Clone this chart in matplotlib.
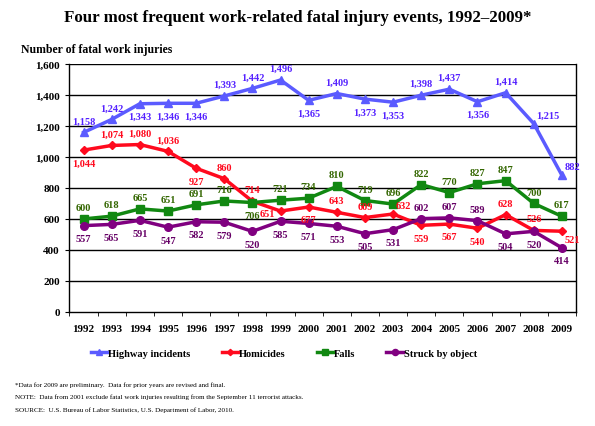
import numpy as np
import matplotlib.pyplot as plt
from matplotlib.ticker import FuncFormatter, FixedLocator

plt.rcParams['font.family'] = ['Liberation Serif', 'DejaVu Serif']

years = [str(y) for y in range(1992, 2010)]
highway = [1158, 1242, 1343, 1346, 1346, 1393, 1442, 1496, 1365, 1409,
           1373, 1353, 1398, 1437, 1356, 1414, 1215, 882]
homicides = [1044, 1074, 1080, 1036, 927, 860, 714, 651, 677, 643,
             609, 632, 559, 567, 540, 628, 526, 521]
falls = [600, 618, 665, 651, 691, 716, 706, 721, 734, 810,
         719, 696, 822, 770, 827, 847, 700, 617]
struck = [557, 565, 591, 547, 582, 579, 520, 585, 571, 553,
          505, 531, 602, 607, 589, 504, 520, 414]

# label placement: u above, d below, r right-above, q right-below, l left
hw_pos = list("uuddduuududduudurr")
ho_pos = list("duuuduulduurddduuq")
fa_pos = list("uuuuuuduuuuuuuuuuu")
st_pos = list("dddddddddddduuuddd")

fig = plt.figure(figsize=(5.95, 4.27), dpi=100)
ax = fig.add_axes([0.1168, 0.267, 0.8512, 0.581])

x = np.arange(len(years))
series = [
    (highway, '#5B5BFF', '#5522FF', '^', 'Highway incidents', hw_pos, 6),
    (homicides, '#FF0A1E', '#FF0A1E', 'D', 'Homicides', ho_pos, 4),
    (falls, '#118811', '#336600', 's', 'Falls', fa_pos, 5.5),
    (struck, '#800080', '#660066', 'o', 'Struck by object', st_pos, 5.5),
]
offsets = {
    'u': (0, 5, 'center', 'bottom'),
    'd': (0, -6, 'center', 'top'),
    'r': (2, 3, 'left', 'bottom'),
    'q': (2, -3, 'left', 'top'),
    'l': (-4, -2, 'right', 'center'),
}
for vals, col, tcol, mk, name, pos, ms in series:
    ax.plot(x, vals, color=col, lw=2.5, marker=mk, ms=ms, label=name,
            zorder=3)
    for xi, v, p in zip(x, vals, pos):
        dx, dy, ha, va = offsets[p]
        ax.annotate(f"{v:,}", (xi, v), xytext=(dx, dy),
                    textcoords='offset points', ha=ha, va=va,
                    color=tcol, fontsize=7.5, fontweight='bold', zorder=5)

ax.set_xlim(-0.5, len(years) - 0.5)
ax.set_ylim(0, 1600)
ax.yaxis.set_major_locator(FixedLocator(range(0, 1601, 200)))
ax.yaxis.set_major_formatter(FuncFormatter(lambda v, p: f"{int(v):,}"))
for g in range(200, 1601, 200):
    ax.axhline(g, color='black', lw=1, zorder=1)
ax.spines['top'].set_visible(False)
for s in ['left', 'right', 'bottom']:
    ax.spines[s].set_linewidth(1)

ax.set_xticks(x)
ax.set_xticklabels(years)
ax.set_xticks(np.arange(-0.5, len(years), 1), minor=True)
ax.tick_params(axis='x', which='major', length=0, pad=9)
ax.tick_params(axis='x', which='minor', length=3, direction='out')
ax.tick_params(axis='y', length=3, direction='out', pad=4)
for lab in ax.get_xticklabels() + ax.get_yticklabels():
    lab.set_fontweight('bold')
    lab.set_fontsize(8)

fig.text(0.5, 0.958, "Four most frequent work-related fatal injury events, 1992\u20132009*",
         ha='center', va='center', fontsize=12.2, fontweight='bold')
fig.text(0.035, 0.882, "Number of fatal work injuries", ha='left', va='center',
         fontsize=8.5, fontweight='bold')

fig.legend(loc='center', bbox_to_anchor=(0.477, 0.17), ncol=4, frameon=False,
           prop={'weight': 'bold', 'size': 7.5}, handlelength=1.6,
           handletextpad=0.05, columnspacing=3.0, markerscale=0.8)

notes = ["*Data for 2009 are preliminary.  Data for prior years are revised and final.",
         "NOTE:  Data from 2001 exclude fatal work injuries resulting from the September 11 terrorist attacks.",
         "SOURCE:  U.S. Bureau of Labor Statistics, U.S. Department of Labor, 2010."]
for i, n in enumerate(notes):
    fig.text(0.025, 0.098 - i * 0.029, n, ha='left', va='center', fontsize=5.1)

fig.savefig('out.png', dpi=100)
